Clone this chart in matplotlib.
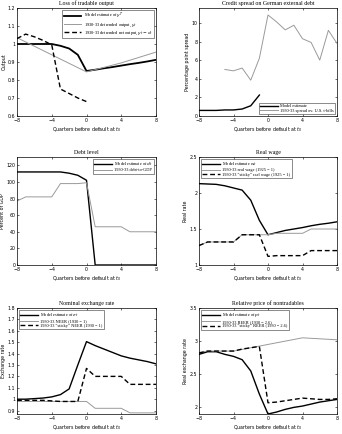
import matplotlib
matplotlib.use("Agg")
import matplotlib.pyplot as plt
import numpy as np

W, H = 342, 434
q = list(range(-8, 9))

# Panel 1: Loss of tradable output
p1_model = [1.0, 1.0, 1.0, 1.0, 1.0, 0.99, 0.975, 0.94, 0.85, 0.857, 0.865, 0.872, 0.88, 0.888, 0.895, 0.903, 0.912]
p1_out_x = [-8, -4, 0, 4, 8]
p1_out = [1.035, 0.94, 0.845, 0.895, 0.955]
p1_net_x = [-8, -7, -6, -5, -4, -3, -2, -1, 0]
p1_net = [1.03, 1.055, 1.04, 1.02, 0.995, 0.75, 0.725, 0.70, 0.68]

# Panel 2: Credit spread
p2_model_x = [-8, -7, -6, -5, -4, -3, -2, -1]
p2_model = [0.6, 0.6, 0.6, 0.65, 0.65, 0.75, 1.1, 2.25]
p2_spread_x = list(range(-5, 9))
p2_spread = [5.0, 4.85, 5.15, 3.85, 6.2, 10.85, 10.1, 9.25, 9.75, 8.3, 7.9, 6.0, 9.2, 7.8]

# Panel 3: Debt level
p3_model = [112, 112, 112, 112, 112, 112, 110.5, 108, 102, 0, 0, 0, 0, 0, 0, 0, 0]
p3_debt = [77, 82, 82, 82, 82, 98, 98, 98, 99, 46, 46, 46, 46, 40, 40, 40, 40]

# Panel 4: Real wage
p4_model = [2.13, 2.125, 2.12, 2.1, 2.07, 2.04, 1.9, 1.62, 1.42, 1.45, 1.48, 1.5, 1.52, 1.545, 1.565, 1.58, 1.6]
p4_wage = [1.27, 1.32, 1.32, 1.32, 1.32, 1.42, 1.42, 1.42, 1.42, 1.44, 1.44, 1.44, 1.44, 1.5, 1.5, 1.5, 1.5]
p4_sticky = [1.27, 1.32, 1.32, 1.32, 1.32, 1.42, 1.42, 1.42, 1.12, 1.13, 1.13, 1.13, 1.13, 1.2, 1.2, 1.2, 1.2]

# Panel 5: Nominal exchange rate
p5_model = [1.0, 1.0, 1.005, 1.01, 1.02, 1.04, 1.09, 1.3, 1.505, 1.47, 1.44, 1.41, 1.38, 1.36, 1.345, 1.33, 1.31]
p5_neer = [0.98, 0.98, 0.98, 0.98, 0.98, 0.98, 0.98, 0.98, 0.98, 0.92, 0.92, 0.92, 0.92, 0.88, 0.88, 0.88, 0.88]
p5_sticky = [0.99, 0.99, 0.99, 0.99, 0.985, 0.98, 0.98, 0.98, 1.27, 1.2, 1.2, 1.2, 1.2, 1.13, 1.13, 1.13, 1.13]

# Panel 6: Relative price of nontradables
p6_model = [2.8, 2.84, 2.84, 2.8, 2.77, 2.72, 2.55, 2.2, 1.9, 1.93, 1.97, 2.0, 2.02, 2.05, 2.08, 2.1, 2.12]
p6_reer_x = [-8, -7, -6, -5, -4, 0, 4, 8]
p6_reer = [2.83, 2.85, 2.85, 2.85, 2.85, 2.95, 3.05, 3.02]
p6_sticky_x = [-8, -7, -6, -5, -4, -3, -2, -1, 0, 1, 2, 3, 4, 5, 6, 7, 8]
p6_sticky = [2.82, 2.85, 2.85, 2.85, 2.85, 2.88, 2.9, 2.92, 2.07, 2.08, 2.1, 2.12, 2.14, 2.13, 2.12, 2.12, 2.13]

GRAY = "#9a9a9a"
SERIF = "Liberation Serif"
SANS = "DejaVu Sans"
FS = 3.4

fig = plt.figure(figsize=(W / 100, H / 100), dpi=100)

def make_ax(l, r, t, b):
    return fig.add_axes([l / W, 1 - b / H, (r - l) / W, (b - t) / H])

cols = [(17, 156), (199, 337)]
rows = [(8, 116), (157, 265), (308, 414)]

def style(ax, title, ylabel, ylim, yticks, yticklabels=None):
    ax.set_xlim(-8, 8)
    ax.set_xticks([-8, -4, 0, 4, 8])
    ax.set_ylim(*ylim)
    ax.set_yticks(yticks)
    if yticklabels is not None:
        ax.set_yticklabels(yticklabels)
    ax.tick_params(labelsize=FS, length=1.5, width=0.4, direction="in", pad=1.2,
                   top=True, right=True)
    for lab in ax.get_xticklabels() + ax.get_yticklabels():
        lab.set_family(SANS)
    for s in ax.spines.values():
        s.set_linewidth(0.5)
    ax.set_title(title, fontsize=4.2, family=SERIF, pad=2)
    ax.set_ylabel(ylabel, fontsize=FS, family=SANS, labelpad=1)
    ax.set_xlabel("Quarters before default at $t_0$", fontsize=FS, family=SANS, labelpad=2)

def leg(ax, loc):
    lg = ax.legend(loc=loc, prop={"family": SERIF, "size": 3.2}, frameon=True,
                   fancybox=False, edgecolor="black", handlelength=4.0,
                   borderpad=0.3, labelspacing=0.1, handletextpad=0.5, borderaxespad=0.4)
    lg.get_frame().set_linewidth(0.4)

DASH = (0, (3.5, 2))

# Panel 1
ax = make_ax(cols[0][0], cols[0][1], rows[0][0], rows[0][1])
ax.plot(q, p1_model, color="black", lw=1.3, label="Model estimate of $y^T$")
ax.plot(p1_out_x, p1_out, color=GRAY, lw=0.7, label="1930-33 detrended output, $y_t$")
ax.plot(p1_net_x, p1_net, color="black", lw=1.0, ls=DASH, label="1930-33 detrended net output, $y_t - d_t$")
style(ax, "Loss of tradable output", "Output", (0.6, 1.2), np.round(np.arange(0.6, 1.21, 0.1), 1),
      ["0.6", "0.7", "0.8", "0.9", "1", "1.1", "1.2"])
leg(ax, "upper right")

# Panel 2
ax = make_ax(cols[1][0], cols[1][1], rows[0][0], rows[0][1])
ax.plot(p2_model_x, p2_model, color="black", lw=1.0, label="Model estimate")
ax.plot(p2_spread_x, p2_spread, color=GRAY, lw=0.7, label="1930-33 spread ov. U.S. t-bills")
style(ax, "Credit spread on German external debt", "Percentage point spread", (0, 11.6), [0, 2, 4, 6, 8, 10])
leg(ax, "lower right")

# Panel 3
ax = make_ax(cols[0][0], cols[0][1], rows[1][0], rows[1][1])
ax.plot(q, p3_model, color="black", lw=1.0, label="Model estimate of $d_t$")
ax.plot(q, p3_debt, color=GRAY, lw=0.7, label="1930-33 debt-to-GDP")
style(ax, "Debt level", "Percent of GDP", (0, 130), [0, 20, 40, 60, 80, 100, 120])
leg(ax, "upper right")

# Panel 4
ax = make_ax(cols[1][0], cols[1][1], rows[1][0], rows[1][1])
ax.plot(q, p4_model, color="black", lw=1.0, label="Model estimate $w_t$")
ax.plot(q, p4_wage, color=GRAY, lw=0.7, label="1930-33 real wage (1925 = 1)")
ax.plot(q, p4_sticky, color="black", lw=1.0, ls=DASH, label="1930-33 \u201csticky\u201d real wage (1925 = 1)")
style(ax, "Real wage", "Real rate", (1, 2.5), [1, 1.5, 2, 2.5], ["1", "1.5", "2", "2.5"])
leg(ax, "upper left")

# Panel 5
ax = make_ax(cols[0][0], cols[0][1], rows[2][0], rows[2][1])
ax.plot(q, p5_model, color="black", lw=1.0, label="Model estimate of $e_t$")
ax.plot(q, p5_neer, color=GRAY, lw=0.7, label="1930-33 NEER (1930 = 1)")
ax.plot(q, p5_sticky, color="black", lw=1.0, ls=DASH, label="1930-33 \u201csticky\u201d NEER (1930 = 1)")
style(ax, "Nominal exchange rate", "Exchange rate", (0.87, 1.8), np.round(np.arange(0.9, 1.81, 0.1), 1),
      ["0.9", "1", "1.1", "1.2", "1.3", "1.4", "1.5", "1.6", "1.7", "1.8"])
leg(ax, "upper left")

# Panel 6
ax = make_ax(cols[1][0], cols[1][1], rows[2][0], rows[2][1])
ax.plot(q, p6_model, color="black", lw=1.0, label="Model estimate of $p_t$")
ax.plot(p6_reer_x, p6_reer, color=GRAY, lw=0.7, label="1930-33 REER (1930 = 2.6)")
ax.plot(p6_sticky_x, p6_sticky, color="black", lw=1.0, ls=DASH, label="1930-33 \u201csticky\u201d REER (1930 = 2.6)")
style(ax, "Relative price of nontradables", "Real exchange rate", (1.9, 3.5), [2, 2.5, 3, 3.5], ["2", "2.5", "3", "3.5"])
leg(ax, "upper left")

fig.savefig("out.png", dpi=100)
